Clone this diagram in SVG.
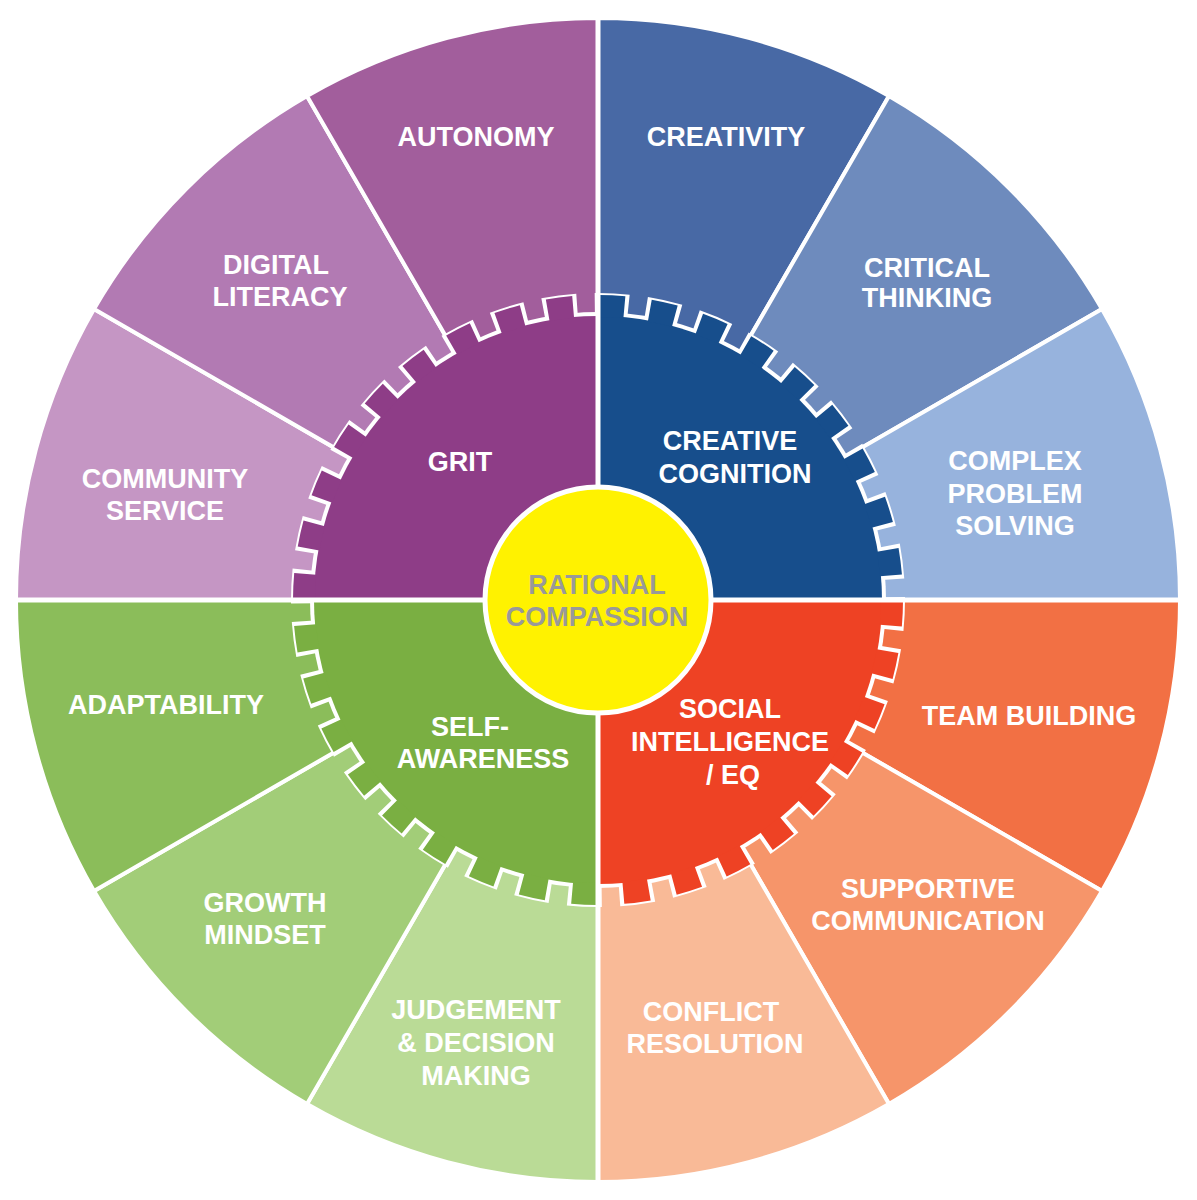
<svg xmlns="http://www.w3.org/2000/svg" width="1197" height="1200" viewBox="0 0 1197 1200">
<style>
.s{stroke:#fff;stroke-width:4;stroke-linejoin:round}
text{font-family:"Liberation Sans",Arial,sans-serif;font-weight:bold;font-size:27px;fill:#fff;text-anchor:middle}
.wd{fill:none;stroke:#fff;stroke-width:26;stroke-dasharray:33.66 17.66;stroke-dashoffset:4}
.dk{fill:none;stroke-width:22;stroke-dasharray:25.66 25.66}
</style>
<defs>
<clipPath id="q1"><rect x="598" y="0" width="600" height="600"/></clipPath>
<clipPath id="q2"><rect x="598" y="600" width="600" height="600"/></clipPath>
<clipPath id="q3"><rect x="0" y="600" width="598" height="600"/></clipPath>
<clipPath id="q4"><rect x="0" y="0" width="598" height="600"/></clipPath>
</defs>
<rect width="1197" height="1200" fill="#fff"/>
<g id="outer">
<path class="s" fill="#4869A5" d="M598,600 L598,18 A582,582 0 0 1 889,96 Z"/>
<path class="s" fill="#6E8BBD" d="M598,600 L889,96 A582,582 0 0 1 1102,309 Z"/>
<path class="s" fill="#97B3DD" d="M598,600 L1102,309 A582,582 0 0 1 1180,600 Z"/>
<path class="s" fill="#F27044" d="M598,600 L1180,600 A582,582 0 0 1 1102,891 Z"/>
<path class="s" fill="#F6956A" d="M598,600 L1102,891 A582,582 0 0 1 889,1104 Z"/>
<path class="s" fill="#F9BA97" d="M598,600 L889,1104 A582,582 0 0 1 598,1182 Z"/>
<path class="s" fill="#BADB96" d="M598,600 L598,1182 A582,582 0 0 1 307,1104 Z"/>
<path class="s" fill="#A2CD78" d="M598,600 L307,1104 A582,582 0 0 1 94,891 Z"/>
<path class="s" fill="#8BBD5A" d="M598,600 L94,891 A582,582 0 0 1 16,600 Z"/>
<path class="s" fill="#C596C4" d="M598,600 L16,600 A582,582 0 0 1 94,309 Z"/>
<path class="s" fill="#B27AB3" d="M598,600 L94,309 A582,582 0 0 1 307,96 Z"/>
<path class="s" fill="#A25E9C" d="M598,600 L307,96 A582,582 0 0 1 598,18 Z"/>
</g>
<g id="gear">
<circle cx="598" cy="600" r="288" fill="#fff"/>
<circle class="wd" cx="598" cy="600" r="294"/>
<g clip-path="url(#q1)"><circle cx="598" cy="600" r="284" fill="#174E8C"/><circle class="dk" stroke="#174E8C" cx="598" cy="600" r="294"/></g>
<g clip-path="url(#q2)"><circle cx="598" cy="600" r="284" fill="#EE4224"/><circle class="dk" stroke="#EE4224" cx="598" cy="600" r="294"/></g>
<g clip-path="url(#q3)"><circle cx="598" cy="600" r="284" fill="#7AAF42"/><circle class="dk" stroke="#7AAF42" cx="598" cy="600" r="294"/></g>
<g clip-path="url(#q4)"><circle cx="598" cy="600" r="284" fill="#8E3D87"/><circle class="dk" stroke="#8E3D87" cx="598" cy="600" r="294"/></g>
<path d="M598,14 V1186 M12,600 H1184" stroke="#fff" stroke-width="5"/>
</g>
<g id="center">
<circle cx="598" cy="600" r="113" fill="#FFF200" stroke="#fff" stroke-width="5"/>
<text x="597" y="594" style="fill:#999">RATIONAL</text>
<text x="597" y="626" style="fill:#999">COMPASSION</text>
</g>
<g id="labels">
<text x="476" y="146">AUTONOMY</text>
<text x="726" y="146">CREATIVITY</text>
<text x="276" y="274">DIGITAL</text><text x="280" y="306">LITERACY</text>
<text x="927" y="277">CRITICAL</text><text x="927" y="307">THINKING</text>
<text x="165" y="488">COMMUNITY</text><text x="165" y="520">SERVICE</text>
<text x="1015" y="470">COMPLEX</text><text x="1015" y="503">PROBLEM</text><text x="1015" y="535">SOLVING</text>
<text x="460" y="471">GRIT</text>
<text x="730" y="450">CREATIVE</text><text x="735" y="483">COGNITION</text>
<text x="166" y="714">ADAPTABILITY</text>
<text x="1029" y="725">TEAM BUILDING</text>
<text x="470" y="736">SELF-</text><text x="483" y="768">AWARENESS</text>
<text x="730" y="718">SOCIAL</text><text x="730" y="751">INTELLIGENCE</text><text x="733" y="784">/ EQ</text>
<text x="265" y="912">GROWTH</text><text x="265" y="944">MINDSET</text>
<text x="928" y="898">SUPPORTIVE</text><text x="928" y="930">COMMUNICATION</text>
<text x="476" y="1019">JUDGEMENT</text><text x="476" y="1052">&amp; DECISION</text><text x="476" y="1085">MAKING</text>
<text x="711" y="1021">CONFLICT</text><text x="715" y="1053">RESOLUTION</text>
</g>
</svg>
